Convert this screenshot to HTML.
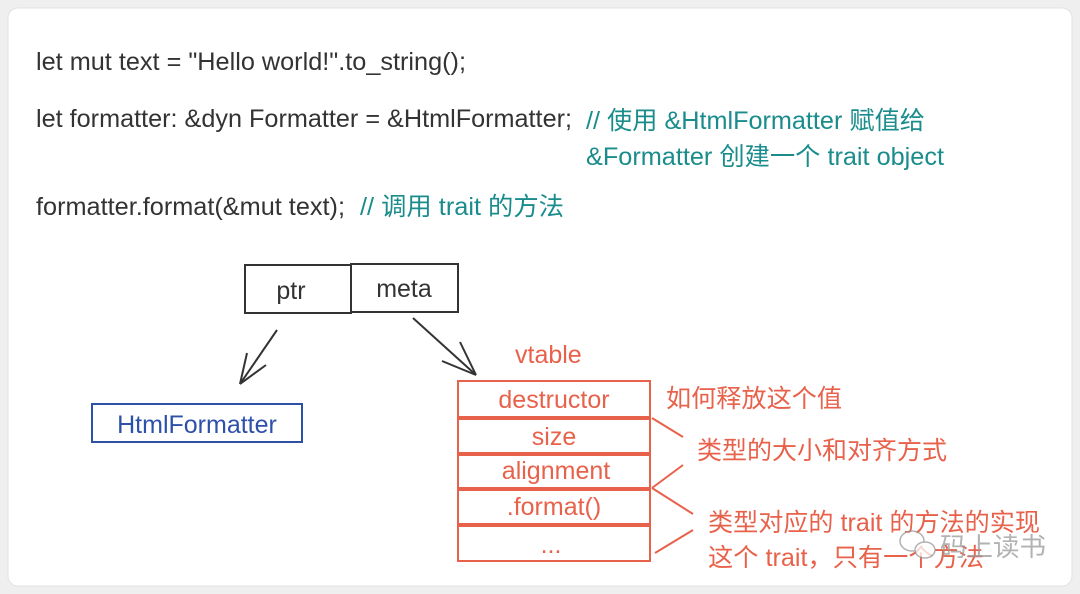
<!DOCTYPE html>
<html><head><meta charset="utf-8"><style>
html,body{margin:0;padding:0;background:#efefef;}
svg{display:block}
</style></head><body>
<svg width="1080" height="594" viewBox="0 0 1080 594" xmlns="http://www.w3.org/2000/svg" font-family="'Liberation Sans','Noto Sans CJK SC',sans-serif">
<rect x="0" y="0" width="1080" height="594" fill="#efefef"/>
<rect x="8" y="8" width="1064" height="578" rx="10" fill="#ffffff" stroke="#e2e2e2"/>
<g font-size="25" fill="#333">
<text x="36" y="70" textLength="430" lengthAdjust="spacingAndGlyphs">let mut text = "Hello world!".to_string();</text>
<text x="36" y="127" textLength="536" lengthAdjust="spacingAndGlyphs">let formatter: &amp;dyn Formatter = &amp;HtmlFormatter;</text>
<text x="36" y="215" textLength="309" lengthAdjust="spacingAndGlyphs">formatter.format(&amp;mut text);</text>
</g>
<g font-size="25" fill="#1a8c8c">
<text x="586" y="129" textLength="339" lengthAdjust="spacingAndGlyphs">// 使用 &amp;HtmlFormatter 赋值给</text>
<text x="586" y="165" textLength="358" lengthAdjust="spacingAndGlyphs">&amp;Formatter 创建一个 trait object</text>
<text x="360" y="215" textLength="204" lengthAdjust="spacingAndGlyphs">// 调用 trait 的方法</text>
</g>
<g fill="none" stroke="#333" stroke-width="2">
<rect x="245" y="265" width="106" height="48"/>
<rect x="351" y="264" width="107" height="48"/>
<line x1="277" y1="330" x2="240" y2="384"/>
<line x1="247" y1="353" x2="240" y2="384"/>
<line x1="266" y1="365" x2="240" y2="384"/>
<line x1="413" y1="318" x2="476" y2="375"/>
<line x1="442" y1="361" x2="476" y2="375"/>
<line x1="460" y1="342" x2="476" y2="375"/>
</g>
<g font-size="25" fill="#333" text-anchor="middle">
<text x="291" y="299">ptr</text>
<text x="404" y="297">meta</text>
</g>
<rect x="92" y="404" width="210" height="38" fill="none" stroke="#2d50a8" stroke-width="2"/>
<text x="197" y="433" font-size="25" fill="#2d50a8" text-anchor="middle">HtmlFormatter</text>
<g fill="none" stroke="#e8614a" stroke-width="2">
<rect x="458" y="381" width="192" height="36"/>
<rect x="458" y="419" width="192" height="34"/>
<rect x="458" y="455" width="192" height="33"/>
<rect x="458" y="490" width="192" height="34"/>
<rect x="458" y="526" width="192" height="35"/>
<line x1="652" y1="418" x2="683" y2="437"/>
<line x1="683" y1="465" x2="652" y2="488"/>
<line x1="652" y1="488" x2="693" y2="514"/>
<line x1="693" y1="530" x2="655" y2="553"/>
</g>
<g font-size="25" fill="#e8614a">
<text x="515" y="363">vtable</text>
<g text-anchor="middle">
<text x="554" y="408">destructor</text>
<text x="554" y="445">size</text>
<text x="556" y="479">alignment</text>
<text x="554" y="515">.format()</text>
<text x="551" y="553">...</text>
</g>
<text x="666" y="407" textLength="176" lengthAdjust="spacingAndGlyphs">如何释放这个值</text>
<text x="697" y="459" textLength="250" lengthAdjust="spacingAndGlyphs">类型的大小和对齐方式</text>
<text x="708" y="531" textLength="332" lengthAdjust="spacingAndGlyphs">类型对应的 trait 的方法的实现</text>
<text x="708" y="566" textLength="276" lengthAdjust="spacingAndGlyphs">这个 trait，只有一个方法</text>
</g>
<g opacity="0.75">
<ellipse cx="912" cy="541" rx="12" ry="10" fill="none" stroke="#999" stroke-width="1.5"/>
<ellipse cx="925" cy="550" rx="10" ry="8" fill="#fff" stroke="#999" stroke-width="1.5"/>
<text x="940" y="556" font-size="26" fill="#999" textLength="106" lengthAdjust="spacingAndGlyphs">码上读书</text>
</g>
</svg>
</body></html>
